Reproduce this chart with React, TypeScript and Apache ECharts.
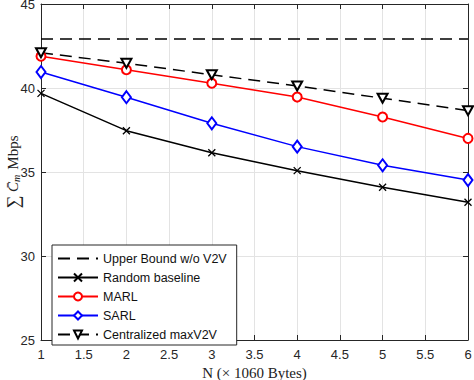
import React, { useEffect, useRef } from 'react';
import * as echarts from 'echarts';

const xValues = [1, 2, 3, 4, 5, 6];
const upperBound = [42.92, 42.92, 42.92, 42.92, 42.92, 42.92];
const randomBaseline = [39.68, 37.46, 36.15, 35.08, 34.09, 33.2];
const marl = [41.89, 41.09, 40.28, 39.46, 38.27, 37.0];
const sarl = [40.95, 39.45, 37.9, 36.51, 35.4, 34.52];
const centralized = [42.1, 41.47, 40.79, 40.12, 39.39, 38.65];
const seriesNames = [
  'Upper Bound w/o V2V',
  'Random baseline',
  'MARL',
  'SARL',
  'Centralized maxV2V',
];

const pairs = (ys: number[]) => xValues.map((x, i) => [x, ys[i]]);

export default function App() {
  const ref = useRef<HTMLDivElement>(null);
  useEffect(() => {
    if (!ref.current) return;
    const chart = echarts.init(ref.current, undefined, { renderer: 'svg' });
    const axisColor = '#262626';
    const gridColor = '#e3e3e3';
    const font = 'Liberation Sans';
    const common = {
      axisLine: { show: true, lineStyle: { color: axisColor, width: 1 } },
      axisTick: { show: true, inside: true, length: 5, lineStyle: { color: axisColor } },
    };
    chart.setOption({
      animation: false,
      backgroundColor: '#fff',
      grid: { left: 41, right: 6, top: 4, bottom: 40, containLabel: false, outerBoundsMode: 'none' },
      xAxis: [
        {
          type: 'value', min: 1, max: 6, interval: 0.5, position: 'bottom',
          ...common,
          axisLabel: { color: axisColor, fontFamily: font, fontSize: 13, margin: 8 },
          splitLine: { show: true, lineStyle: { color: gridColor } },
          name: 'N (× 1060 Bytes)', nameLocation: 'middle', nameGap: 21,
          nameTextStyle: { fontFamily: 'Liberation Serif', fontSize: 15, color: '#222' },
        },
        {
          type: 'value', min: 1, max: 6, interval: 0.5, position: 'top',
          ...common, axisLabel: { show: false }, splitLine: { show: false },
        },
      ],
      yAxis: [
        {
          type: 'value', min: 25, max: 45, interval: 5, position: 'left',
          ...common,
          axisLabel: { color: axisColor, fontFamily: font, fontSize: 13, margin: 6 },
          splitLine: { show: true, lineStyle: { color: gridColor } },
          name: '{s|∑}{c| C̄}{m|m}{t|Mbps}', nameLocation: 'middle', nameGap: 19,
          nameMoveOverlap: false,
          nameTextStyle: {
            color: '#222',
            rich: {
              s: { fontFamily: 'Liberation Serif', fontSize: 18, color: '#222' },
              c: { fontFamily: 'Liberation Serif', fontStyle: 'italic', fontSize: 15, color: '#222' },
              m: { fontFamily: 'Liberation Serif', fontStyle: 'italic', fontSize: 10, color: '#222', padding: [6, 5, 0, 0] },
              t: { fontFamily: 'Liberation Serif', fontSize: 15, color: '#222' },
            },
          },
        },
        {
          type: 'value', min: 25, max: 45, interval: 5, position: 'right',
          ...common, axisLabel: { show: false }, splitLine: { show: false },
        },
      ],
      legend: {
        orient: 'vertical', left: 52, top: 245,
        itemWidth: 40, itemHeight: 10, itemGap: 6,
        padding: [7, 10, 4, 5],
        backgroundColor: '#fff', borderColor: '#262626', borderWidth: 1,
        textStyle: { fontFamily: font, fontSize: 12.5, color: '#111' },
        data: [
          { name: seriesNames[0], itemStyle: { opacity: 0 } },
          seriesNames[1],
          seriesNames[2],
          seriesNames[3],
          seriesNames[4],
        ],
      },
      series: [
        {
          name: seriesNames[0], type: 'line', data: pairs(upperBound), symbol: 'none',
          lineStyle: { color: '#000', width: 1.5, type: [12, 7] }, itemStyle: { color: '#000' },
        },
        {
          name: seriesNames[1], type: 'line', data: pairs(randomBaseline),
          symbol: 'path://M0,0L10,10M10,0L0,10', symbolSize: 7,
          lineStyle: { color: '#000', width: 1.5 },
          itemStyle: { color: '#000', borderColor: '#000', borderWidth: 1.3 },
        },
        {
          name: seriesNames[2], type: 'line', data: pairs(marl),
          symbol: 'emptyCircle', symbolSize: 9,
          lineStyle: { color: '#ff0000', width: 1.5 },
          itemStyle: { color: '#ff0000', borderWidth: 1.3 },
        },
        {
          name: seriesNames[3], type: 'line', data: pairs(sarl),
          symbol: 'emptyDiamond', symbolSize: [9, 12],
          lineStyle: { color: '#0000ff', width: 1.5 },
          itemStyle: { color: '#0000ff', borderWidth: 1.3 },
        },
        {
          name: seriesNames[4], type: 'line', data: pairs(centralized),
          symbol: 'emptyTriangle', symbolRotate: 180, symbolSize: [10, 9],
          lineStyle: { color: '#000', width: 1.5, type: [12, 7] },
          itemStyle: { color: '#000', borderWidth: 1.3 },
        },
      ],
    });
    return () => chart.dispose();
  }, []);
  return (
    <div
      ref={ref}
      style={{ position: 'fixed', left: 0, top: 0, width: 474, height: 380 }}
    />
  );
}
